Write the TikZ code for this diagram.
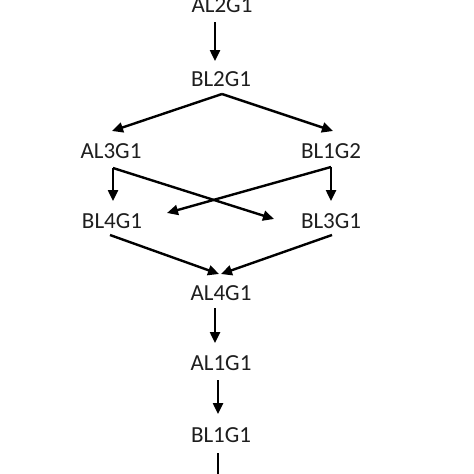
\documentclass[tikz,border=0pt]{standalone}
\usepackage{fontspec}
\setmainfont{Carlito}
\usetikzlibrary{arrows.meta}
\definecolor{txt}{RGB}{30,30,30}
\begin{document}
\begin{tikzpicture}[x=1pt,y=-1pt,
  lbl/.style={anchor=base,inner sep=0pt,font=\fontsize{23}{23}\selectfont,text=txt},
  arr/.style={line width=2.4pt,-{Triangle[length=11pt,width=10pt]}},
  plain/.style={line width=2.4pt}]
\useasboundingbox[fill=white] (0,0) rectangle (474,474);
\node[lbl] (al2g1) at (222,12.5) {AL2G1};
\node[lbl] (bl2g1) at (221,86) {BL2G1};
\node[lbl] (al3g1) at (111,158) {AL3G1};
\node[lbl] (bl1g2) at (331,158) {BL1G2};
\node[lbl] (bl4g1) at (112,228) {BL4G1};
\node[lbl] (bl3g1) at (331,228) {BL3G1};
\node[lbl] (al4g1) at (221,300) {AL4G1};
\node[lbl] (al1g1) at (221,370) {AL1G1};
\node[lbl] (bl1g1) at (221,442) {BL1G1};
% connector end points
\coordinate (a1) at (215,22);   \coordinate (b1) at (215,61);
\coordinate (a2) at (222,94);   \coordinate (b2l) at (112,131); \coordinate (b2r) at (333,131);
\coordinate (a3) at (113,168);  \coordinate (b3d) at (113,201); \coordinate (b3x) at (274,219);
\coordinate (a4) at (331,167);  \coordinate (b4d) at (331,201); \coordinate (b4x) at (167,213);
\coordinate (a5l) at (110,235); \coordinate (a5r) at (332,235);
\coordinate (b5l) at (219,274); \coordinate (b5r) at (221,274);
\coordinate (a6) at (215,308);  \coordinate (b6) at (215,343);
\coordinate (a7) at (218,380);  \coordinate (b7) at (218,414);
\coordinate (a8) at (218,453);  \coordinate (b8) at (218,480);
\draw[arr] (a1) -- (b1);
\draw[arr] (a2) -- (b2l);
\draw[arr] (a2) -- (b2r);
\draw[arr] (a3) -- (b3d);
\draw[arr] (a3) -- (b3x);
\draw[arr] (a4) -- (b4d);
\draw[arr] (a4) -- (b4x);
\draw[arr] (a5l) -- (b5l);
\draw[arr] (a5r) -- (b5r);
\draw[arr] (a6) -- (b6);
\draw[arr] (a7) -- (b7);
\draw[plain] (a8) -- (b8);
\end{tikzpicture}
\end{document}
